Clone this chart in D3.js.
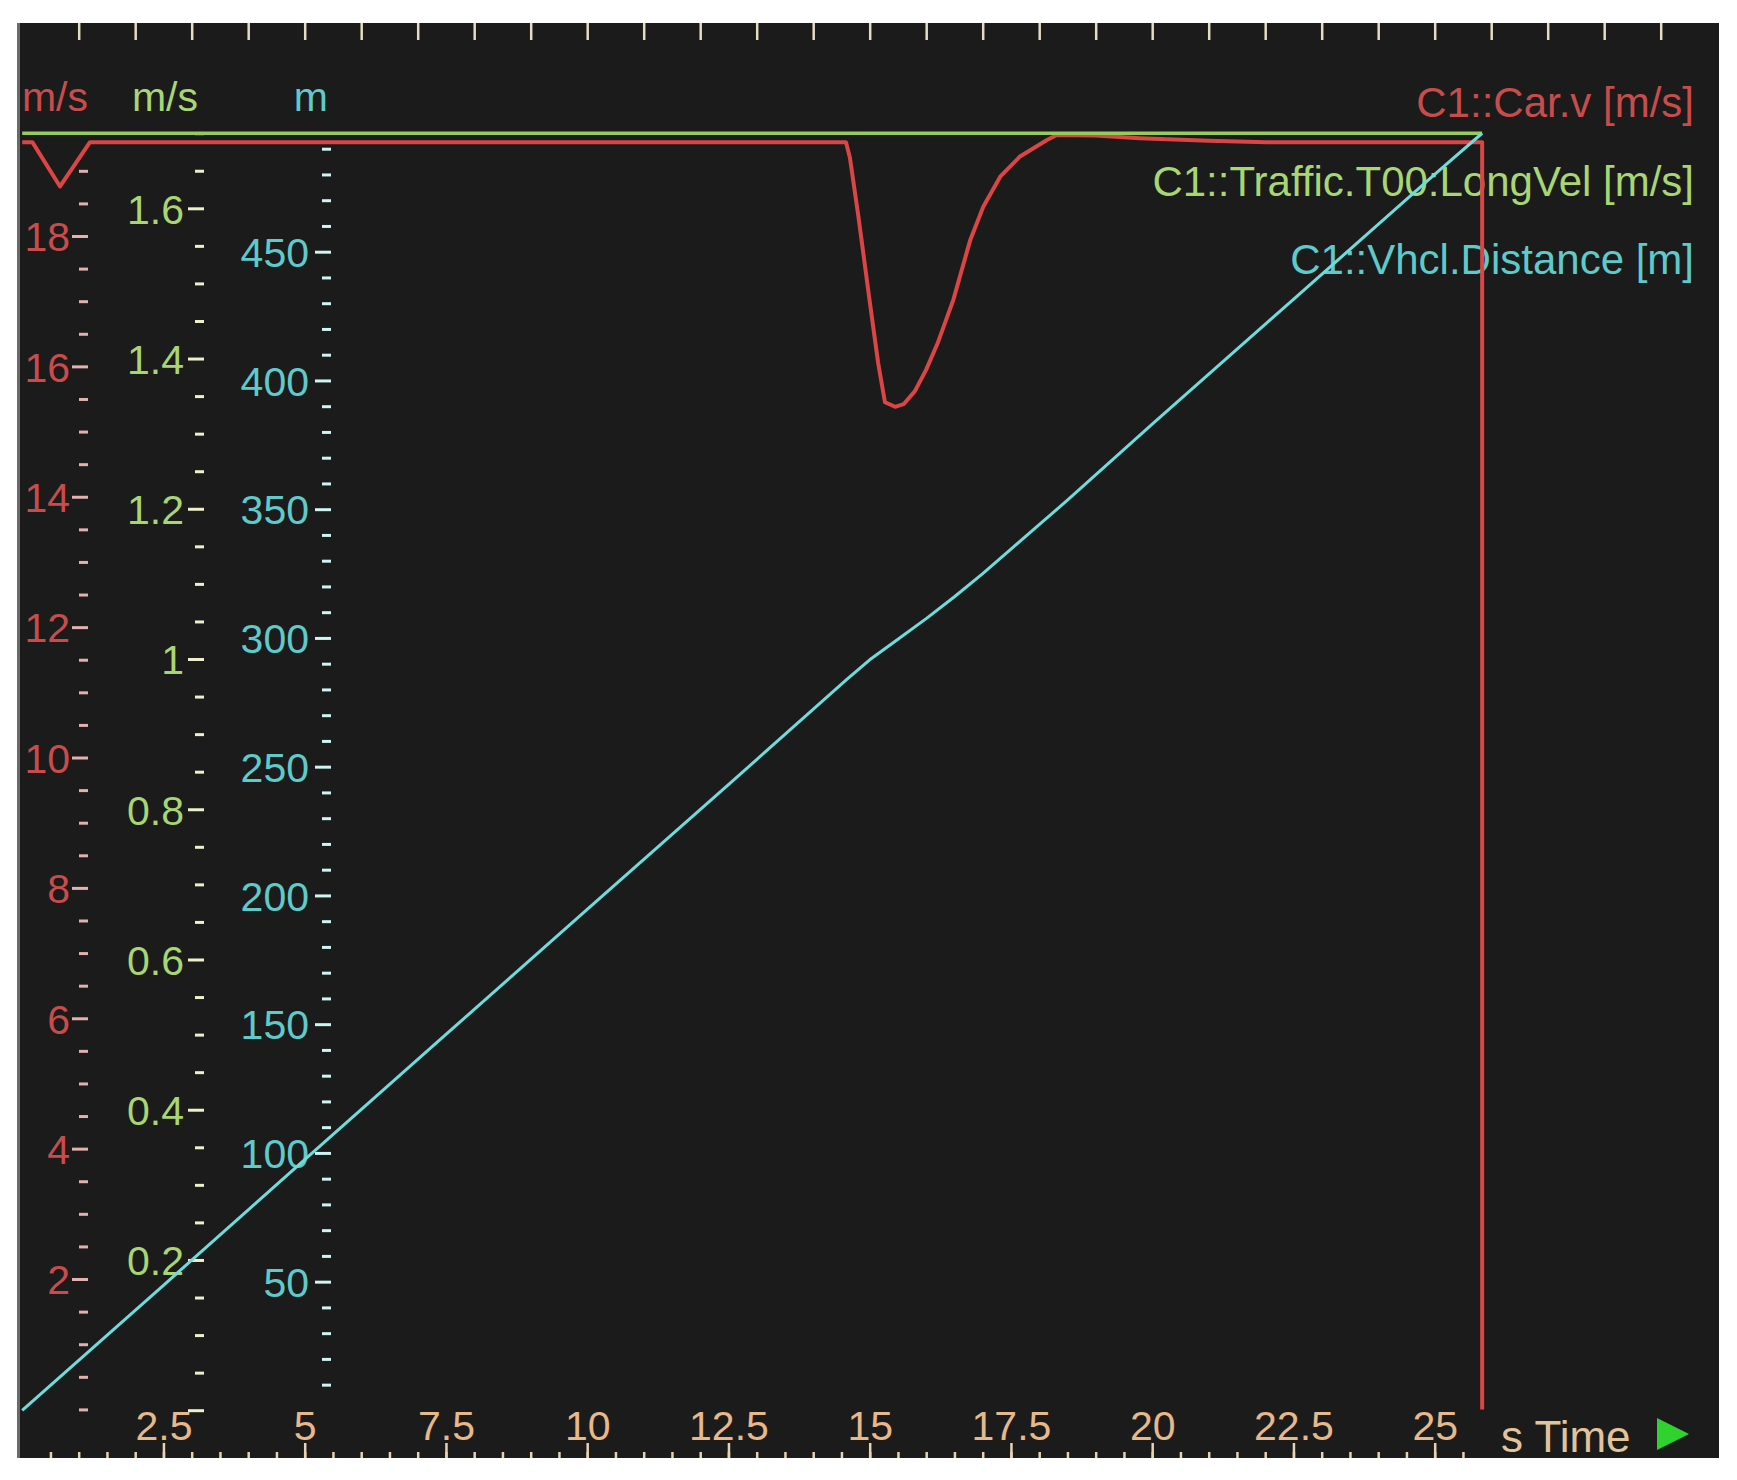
<!DOCTYPE html>
<html><head><meta charset="utf-8">
<script src="https://cdn.jsdelivr.net/npm/d3@7"></script>
<style>
body{margin:0;background:#fff}
svg{display:block}
text{font-family:"Liberation Sans",Arial,sans-serif}
</style>
</head><body>
<svg id="chart" width="1737" height="1480"></svg>
<script>
// ---- data ----
const carTime  = [0, 0.18, 0.67, 1.2, 14.58, 14.65, 14.8, 15.0, 15.15, 15.27, 15.45, 15.6, 15.8, 16.0, 16.2, 16.48, 16.78, 17.01, 17.31, 17.66, 18.13, 18.31, 19.0, 19.78, 21.0, 22.03, 25.84, 25.84];
const carSpeed = [19.44, 19.44, 18.76, 19.44, 19.44, 19.2, 18.3, 17.0, 16.05, 15.45, 15.38, 15.42, 15.62, 15.95, 16.35, 17.02, 17.94, 18.45, 18.91, 19.22, 19.47, 19.55, 19.54, 19.50, 19.46, 19.44, 19.44, 0];
const trafficTime  = [0, 25.84];
const trafficSpeed = [1.7, 1.7];
const distTime  = [0, 2.5, 5, 7.5, 10, 12.5, 14.6, 15.0, 15.5, 16.0, 16.5, 17.0, 17.5, 18.0, 18.5, 20, 22.5, 25, 25.84];
const distValue = [0, 48.6, 97.4, 146, 194.6, 243, 284, 291.5, 299.5, 307.5, 316, 325, 334.5, 344, 353.5, 383, 431.5, 480, 496];

const xTickValues     = [2.5, 5, 7.5, 10, 12.5, 15, 17.5, 20, 22.5, 25];
const xTickLabels     = ["2.5", "5", "7.5", "10", "12.5", "15", "17.5", "20", "22.5", "25"];
const redTickValues   = [2, 4, 6, 8, 10, 12, 14, 16, 18];
const greenTickValues = [0, 0.2, 0.4, 0.6, 0.8, 1, 1.2, 1.4, 1.6];
const greenTickLabels = ["", "0.2", "0.4", "0.6", "0.8", "1", "1.2", "1.4", "1.6"];
const cyanTickValues  = [50, 100, 150, 200, 250, 300, 350, 400, 450];
const unitLabels      = ["m/s", "m/s", "m"];
const legendLabels    = ["C1::Car.v [m/s]", "C1::Traffic.T00:LongVel [m/s]", "C1::Vhcl.Distance [m]"];
const xAxisTitle      = "s Time";

// ---- colours ----
const RED = "#db4545", RED_TXT = "#c94c4c", RED_TICK = "#e4b0b0";
const GREEN = "#98cc5a", GREEN_TXT = "#a8d672", GREEN_TICK = "#eef0cc";
const CYAN = "#6fdcdc", CYAN_TXT = "#5fcaca", CYAN_TICK = "#cff4f4";
const XTXT = "#e6b88a", XTICK = "#e8d2b2", TOPTICK = "#e6dcc4";
const FS = 41;

const svg = d3.select("#chart");
svg.append("rect").attr("x",17).attr("y",23).attr("width",1702).attr("height",1435).attr("fill","#1b1b1b");
svg.append("rect").attr("x",17).attr("y",23).attr("width",3).attr("height",1435).attr("fill","#6a6a6a");

// ---- scales ----
const x = d3.scaleLinear().domain([0, 25]).range([22.2, 1434.7]);
const yRed = d3.scaleLinear().domain([0, 18]).range([1409.4, 236]);
const yGreen = d3.scaleLinear().domain([0, 1.6]).range([1410.2, 208.3]);
const yCyan = d3.scaleLinear().domain([0, 450]).range([1410.4, 251.7]);

function styleAxis(g, color, tickColor, fs) {
  g.select(".domain").remove();
  g.selectAll(".tick line").attr("stroke", tickColor).attr("stroke-width", 3);
  g.selectAll(".tick text").attr("fill", color).attr("font-size", fs)
    .attr("font-family", '"Liberation Sans", Arial, sans-serif');
}

// top ticks (every second)
const gTop = svg.append("g").attr("transform","translate(0,23)")
  .call(d3.axisBottom(x).tickValues(d3.range(1, 30, 1)).tickSize(17).tickFormat(""));
styleAxis(gTop, XTXT, TOPTICK, FS);
gTop.selectAll(".tick line").attr("stroke-width", 2.5);

// bottom minor / major ticks
const gBotMinor = svg.append("g").attr("transform","translate(0,1458)")
  .call(d3.axisTop(x).tickValues(d3.range(0.5, 26, 0.5)).tickSize(6).tickFormat(""));
styleAxis(gBotMinor, XTXT, XTICK, FS);
gBotMinor.selectAll(".tick line").attr("stroke-width", 2.5);
const gBot = svg.append("g").attr("transform","translate(0,1458)")
  .call(d3.axisTop(x).tickValues(xTickValues).tickSize(15).tickPadding(3)
    .tickFormat((d,i) => xTickLabels[i]));
styleAxis(gBot, XTXT, XTICK, FS);
gBot.selectAll(".tick line").attr("stroke-width", 2.5);
gBot.selectAll(".tick text").attr("dy", "0");

// left axes
function leftAxis(scale, ax, minorVals, majorVals, fmt, pad, color, tickColor) {
  const gm = svg.append("g").attr("transform", `translate(${ax},0)`)
    .call(d3.axisLeft(scale).tickValues(minorVals).tickSize(9).tickFormat(""));
  styleAxis(gm, color, tickColor, FS);
  const gM = svg.append("g").attr("transform", `translate(${ax},0)`)
    .call(d3.axisLeft(scale).tickValues(majorVals).tickSize(16).tickPadding(pad).tickFormat(fmt));
  styleAxis(gM, color, tickColor, FS);
  gM.selectAll(".tick text").attr("dy", "0.36em");
}
leftAxis(yRed, 88, d3.range(0, 19.01, 0.5).filter(v => v % 2 !== 0 || v === 0), redTickValues,
  d => String(d), 2, RED_TXT, RED_TICK);
leftAxis(yGreen, 204, d3.range(0, 1.701, 0.05).filter((v,i) => i % 4 !== 0), greenTickValues,
  (d,i) => greenTickLabels[i], 4, GREEN_TXT, GREEN_TICK);
leftAxis(yCyan, 331, d3.range(10, 491, 10).filter(v => v % 50 !== 0), cyanTickValues,
  d => String(d), 6, CYAN_TXT, CYAN_TICK);

// unit labels
const unitX = [88, 198, 328], unitCol = [RED_TXT, GREEN_TXT, CYAN_TXT];
unitLabels.forEach((u,i) => svg.append("text").attr("x", unitX[i]).attr("y", 111)
  .attr("text-anchor","end").attr("font-size",FS).attr("fill",unitCol[i]).text(u));

// legend
const legY = [117, 196, 274];
legendLabels.forEach((l,i) => svg.append("text").attr("x", 1694).attr("y", legY[i])
  .attr("text-anchor","end").attr("font-size",42).attr("fill",unitCol[i]).text(l));

// x axis title + marker
svg.append("text").attr("x", 1501).attr("y", 1452).attr("font-size", 44).attr("fill", "#e2c49c").text(xAxisTitle);
svg.append("path").attr("d", "M1657,1418 L1689,1434 L1657,1450 Z").attr("fill", "#2fd22f");

// ---- series ----
const lineCar = d3.line().x((d,i) => x(carTime[i])).y(d => yRed(d));
const lineTraffic = d3.line().x((d,i) => x(trafficTime[i])).y(d => yGreen(d));
const lineDist = d3.line().x((d,i) => x(distTime[i])).y(d => yCyan(d));

svg.append("path").attr("d", lineCar(carSpeed)).attr("fill","none").attr("stroke",RED).attr("stroke-width",4).attr("stroke-linejoin","round");
svg.append("path").attr("d", lineTraffic(trafficSpeed)).attr("fill","none").attr("stroke",GREEN).attr("stroke-width",3.5);
svg.append("path").attr("d", lineDist(distValue)).attr("fill","none").attr("stroke",CYAN).attr("stroke-width",3).attr("stroke-linejoin","round");
</script>
</body></html>
